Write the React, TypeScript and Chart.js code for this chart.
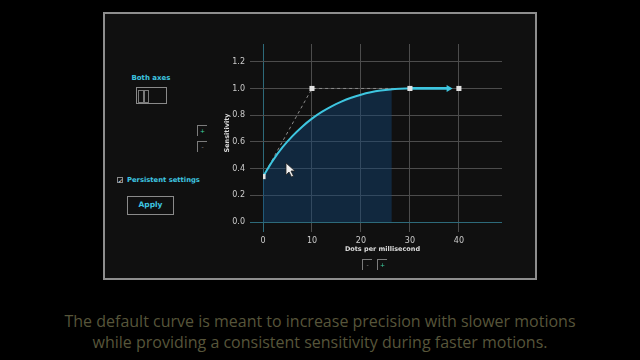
import React, { useEffect, useRef } from "react";
import { Chart, registerables } from "chart.js";

Chart.register(...registerables);

// ---- data ----
const curveX = [0, 2, 4, 6, 8, 10, 12, 14, 16, 18, 20, 22, 24, 26, 28, 30];
const curveY = [0.34, 0.46, 0.56, 0.643, 0.714, 0.774, 0.824, 0.866, 0.901, 0.93, 0.953, 0.971, 0.984, 0.993, 0.998, 1.0];
const fillX = [0, 2, 4, 6, 8, 10, 12, 14, 16, 18, 20, 22, 24, 26, 26.3];
const fillY = [0.34, 0.46, 0.56, 0.643, 0.714, 0.774, 0.824, 0.866, 0.901, 0.93, 0.953, 0.971, 0.984, 0.993, 0.994];
const ctrlX = [0, 10, 30, 40];
const ctrlY = [0.34, 1.0, 1.0, 1.0];
const dashX = [0, 10, 30];
const dashY = [0.34, 1.0, 1.0];
const arrowX = [30, 37.9];
const arrowY = [1.0, 1.0];
const arrowTipX = [37.9];
const arrowTipY = [1.0];
const xTicks = [0, 10, 20, 30, 40];
const yTicks = [0, 0.2, 0.4, 0.6, 0.8, 1.0, 1.2];
const xMax = 48.8;
const yMax = 1.333;
const xTitle = "Dots per millisecond";
const yTitle = "Sensitivity";
const captionLines = [
  "The default curve is meant to increase precision with slower motions",
  "while providing a consistent sensitivity during faster motions.",
];

const zip = (xs: number[], ys: number[]) => xs.map((x, i) => ({ x, y: ys[i] }));

const CYAN = "#3ec6e0";
const UI_FONT = "'DejaVu Sans', sans-serif";

function ChartCanvas() {
  const ref = useRef<HTMLCanvasElement | null>(null);
  useEffect(() => {
    if (!ref.current) return;
    const gridColor = (ctx: any) => (ctx.tick && ctx.tick.value === 0 ? "#2d6a7a" : "#4c4c4c");
    const chart = new Chart(ref.current, {
      type: "line",
      data: {
        datasets: [
          {
            data: zip(ctrlX, ctrlY),
            showLine: false,
            pointStyle: "rect",
            pointRadius: 3.6,
            pointBackgroundColor: "#e2e2e2",
            pointBorderWidth: 0,
          },
          {
            data: zip(arrowTipX, arrowTipY),
            showLine: false,
            pointStyle: "triangle",
            rotation: 90,
            pointRadius: 4,
            pointBackgroundColor: CYAN,
            pointBorderWidth: 0,
          } as any,
          {
            data: zip(arrowX, arrowY),
            borderColor: CYAN,
            borderWidth: 2.8,
            pointRadius: 0,
          },
          {
            data: zip(curveX, curveY),
            borderColor: CYAN,
            borderWidth: 2,
            pointRadius: 0,
            cubicInterpolationMode: "monotone",
          },
          {
            data: zip(dashX, dashY),
            borderColor: "#8a8a8a",
            borderWidth: 1,
            borderDash: [3, 3],
            pointRadius: 0,
          },
          {
            data: zip(fillX, fillY),
            borderWidth: 0,
            borderColor: "rgba(0,0,0,0)",
            backgroundColor: "rgba(20,70,120,0.45)",
            fill: "origin",
            pointRadius: 0,
            cubicInterpolationMode: "monotone",
          },
        ],
      },
      options: {
        responsive: false,
        animation: false,
        layout: { padding: { top: 14, right: 18, left: 0, bottom: 0 } },
        plugins: { legend: { display: false }, tooltip: { enabled: false } },
        scales: {
          x: {
            type: "linear",
            min: 0,
            max: xMax,
            afterFit: (s: any) => {
              s.height = 48;
            },
            afterBuildTicks: (s: any) => {
              s.ticks = xTicks.map((v) => ({ value: v }));
            },
            grid: { color: gridColor, tickLength: 10, lineWidth: 1 },
            border: { display: false },
            ticks: {
              color: "#cccccc",
              padding: 4,
              font: { family: "DejaVu Sans", size: 8 },
              callback: (v: any) => String(v),
            },
            title: {
              display: true,
              text: xTitle,
              color: "#dddddd",
              font: { family: "DejaVu Sans", size: 6.5, weight: "bold" },
              padding: { top: 0, bottom: 17 },
            },
          },
          y: {
            type: "linear",
            min: 0,
            max: yMax,
            afterFit: (s: any) => {
              s.width = 63;
            },
            afterBuildTicks: (s: any) => {
              s.ticks = yTicks.map((v) => ({ value: v }));
            },
            grid: { color: gridColor, tickLength: 13, lineWidth: 1 },
            border: { display: false },
            ticks: {
              color: "#cccccc",
              padding: 5,
              font: { family: "DejaVu Sans", size: 8 },
              callback: (v: any) => Number(v).toFixed(1),
            },
            title: {
              display: true,
              text: yTitle,
              color: "#dddddd",
              font: { family: "DejaVu Sans", size: 6.5, weight: "bold" },
              padding: { top: 23, bottom: 0 },
            },
          },
        },
      } as any,
    });
    return () => chart.destroy();
  }, []);
  return (
    <canvas
      ref={ref}
      width={320}
      height={240}
      style={{ position: "absolute", left: 200, top: 30, width: 320, height: 240 }}
    />
  );
}

const abs = (l: number, t: number, w: number, h: number, extra: React.CSSProperties = {}): React.CSSProperties => ({
  position: "absolute",
  left: l,
  top: t,
  width: w,
  height: h,
  boxSizing: "border-box",
  ...extra,
});

const label = (text: string, cx: number, cy: number, size: number, color = CYAN) => (
  <div
    style={{
      position: "absolute",
      left: cx - 60,
      top: cy - 8,
      width: 120,
      height: 16,
      lineHeight: "16px",
      textAlign: "center",
      fontFamily: UI_FONT,
      fontWeight: "bold",
      fontSize: size,
      color,
      whiteSpace: "nowrap",
    }}
  >
    {text}
  </div>
);

const cornerBox = (l: number, t: number, glyph: string, glyphColor: string) => (
  <div
    style={abs(l, t, 10, 11, {
      borderLeft: "1.5px solid #7c7c7c",
      borderTop: "1.5px solid #7c7c7c",
      color: glyphColor,
      fontFamily: UI_FONT,
      fontSize: 6,
      lineHeight: "10px",
      textAlign: "center",
    })}
  >
    {glyph}
  </div>
);

export default function App() {
  return (
    <div
      style={{
        position: "fixed",
        left: 0,
        top: 0,
        width: 640,
        height: 360,
        background: "#000",
        overflow: "hidden",
      }}
    >
      {/* panel */}
      <div style={abs(103, 12, 434, 268, { background: "#101010", border: "2px solid #8e8e8e" })} />

      {/* left controls */}
      {label("Both axes", 151, 78, 7)}
      <div style={abs(136, 87, 31, 17, { border: "1.5px solid #8a8a8a" })} />
      <div style={abs(138, 90, 11, 13, { border: "1.5px solid #7a7a7a" })} />
      <div style={abs(143, 90, 1.5, 13, { background: "#7a7a7a" })} />

      {cornerBox(197, 125, "+", "#3fd0a0")}
      {cornerBox(197, 141, "-", "#9a9a9a")}

      <div
        style={abs(117, 177, 6, 6, {
          border: "1px solid #8a8a8a",
          color: "#eee",
          fontSize: 6,
          lineHeight: "5px",
          textAlign: "center",
          fontFamily: UI_FONT,
        })}
      >
        ✓
      </div>
      <div
        style={{
          position: "absolute",
          left: 127,
          top: 172,
          height: 16,
          lineHeight: "16px",
          fontFamily: UI_FONT,
          fontWeight: "bold",
          fontSize: 6.8,
          color: CYAN,
          whiteSpace: "nowrap",
        }}
      >
        Persistent settings
      </div>
      <div
        style={abs(127, 196, 47, 19, {
          border: "1.5px solid #8a8a8a",
          color: CYAN,
          fontFamily: UI_FONT,
          fontWeight: "bold",
          fontSize: 7.5,
          lineHeight: "16px",
          textAlign: "center",
        })}
      >
        Apply
      </div>

      <ChartCanvas />

      {/* bottom buttons */}
      {cornerBox(362, 259, "-", "#9a9a9a")}
      {cornerBox(377, 259, "+", "#3fd0a0")}

      {/* mouse cursor */}
      <svg style={{ position: "absolute", left: 285, top: 162 }} width={12} height={16}>
        <polygon points="1,1 1,13 4,10 6.5,15 8.5,14 6,9 10,9" fill="#f0f0f0" stroke="#222" strokeWidth={0.8} />
      </svg>

      {/* caption */}
      {captionLines.map((line, i) => (
        <div
          key={i}
          style={{
            position: "absolute",
            left: 0,
            width: 640,
            top: 310 + i * 21,
            height: 22,
            lineHeight: "22px",
            textAlign: "center",
            fontFamily: "'Open Sans', sans-serif",
            fontSize: 16,
            color: "#57553a",
            whiteSpace: "nowrap",
          }}
        >
          {line}
        </div>
      ))}
    </div>
  );
}
